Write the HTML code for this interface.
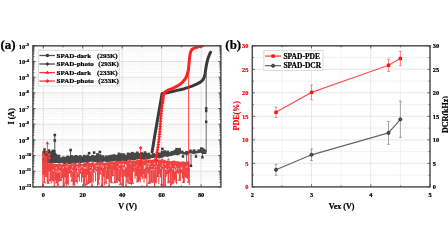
<!DOCTYPE html>
<html><head><meta charset="utf-8"><style>
html,body{margin:0;padding:0;background:#fff;width:448px;height:252px;overflow:hidden}
svg{display:block;font-family:"Liberation Serif", "DejaVu Serif", serif}
text{stroke:#000;stroke-width:0.22px}
text[fill="#f00"]{stroke:#f00}

</style></head><body>
<div id="w"><svg width="448" height="252" viewBox="0 0 448 252"><rect width="448" height="252" fill="#fff"/><g stroke="#f6f6f6" stroke-width="0.8"><line x1="32.9" x2="220.9" y1="182.18" y2="182.18"/><line x1="32.9" x2="220.9" y1="179.42" y2="179.42"/><line x1="32.9" x2="220.9" y1="177.46" y2="177.46"/><line x1="32.9" x2="220.9" y1="175.94" y2="175.94"/><line x1="32.9" x2="220.9" y1="174.7" y2="174.7"/><line x1="32.9" x2="220.9" y1="173.65" y2="173.65"/><line x1="32.9" x2="220.9" y1="172.74" y2="172.74"/><line x1="32.9" x2="220.9" y1="171.94" y2="171.94"/><line x1="32.9" x2="220.9" y1="166.5" y2="166.5"/><line x1="32.9" x2="220.9" y1="163.74" y2="163.74"/><line x1="32.9" x2="220.9" y1="161.78" y2="161.78"/><line x1="32.9" x2="220.9" y1="160.27" y2="160.27"/><line x1="32.9" x2="220.9" y1="159.02" y2="159.02"/><line x1="32.9" x2="220.9" y1="157.97" y2="157.97"/><line x1="32.9" x2="220.9" y1="157.07" y2="157.07"/><line x1="32.9" x2="220.9" y1="156.26" y2="156.26"/><line x1="32.9" x2="220.9" y1="150.83" y2="150.83"/><line x1="32.9" x2="220.9" y1="148.07" y2="148.07"/><line x1="32.9" x2="220.9" y1="146.11" y2="146.11"/><line x1="32.9" x2="220.9" y1="144.59" y2="144.59"/><line x1="32.9" x2="220.9" y1="143.35" y2="143.35"/><line x1="32.9" x2="220.9" y1="142.3" y2="142.3"/><line x1="32.9" x2="220.9" y1="141.39" y2="141.39"/><line x1="32.9" x2="220.9" y1="140.59" y2="140.59"/><line x1="32.9" x2="220.9" y1="135.15" y2="135.15"/><line x1="32.9" x2="220.9" y1="132.39" y2="132.39"/><line x1="32.9" x2="220.9" y1="130.43" y2="130.43"/><line x1="32.9" x2="220.9" y1="128.91" y2="128.91"/><line x1="32.9" x2="220.9" y1="127.67" y2="127.67"/><line x1="32.9" x2="220.9" y1="126.62" y2="126.62"/><line x1="32.9" x2="220.9" y1="125.71" y2="125.71"/><line x1="32.9" x2="220.9" y1="124.91" y2="124.91"/><line x1="32.9" x2="220.9" y1="119.47" y2="119.47"/><line x1="32.9" x2="220.9" y1="116.71" y2="116.71"/><line x1="32.9" x2="220.9" y1="114.75" y2="114.75"/><line x1="32.9" x2="220.9" y1="113.23" y2="113.23"/><line x1="32.9" x2="220.9" y1="111.99" y2="111.99"/><line x1="32.9" x2="220.9" y1="110.94" y2="110.94"/><line x1="32.9" x2="220.9" y1="110.03" y2="110.03"/><line x1="32.9" x2="220.9" y1="109.23" y2="109.23"/><line x1="32.9" x2="220.9" y1="103.79" y2="103.79"/><line x1="32.9" x2="220.9" y1="101.03" y2="101.03"/><line x1="32.9" x2="220.9" y1="99.07" y2="99.07"/><line x1="32.9" x2="220.9" y1="97.55" y2="97.55"/><line x1="32.9" x2="220.9" y1="96.31" y2="96.31"/><line x1="32.9" x2="220.9" y1="95.26" y2="95.26"/><line x1="32.9" x2="220.9" y1="94.35" y2="94.35"/><line x1="32.9" x2="220.9" y1="93.55" y2="93.55"/><line x1="32.9" x2="220.9" y1="88.11" y2="88.11"/><line x1="32.9" x2="220.9" y1="85.35" y2="85.35"/><line x1="32.9" x2="220.9" y1="83.39" y2="83.39"/><line x1="32.9" x2="220.9" y1="81.88" y2="81.88"/><line x1="32.9" x2="220.9" y1="80.63" y2="80.63"/><line x1="32.9" x2="220.9" y1="79.58" y2="79.58"/><line x1="32.9" x2="220.9" y1="78.68" y2="78.68"/><line x1="32.9" x2="220.9" y1="77.87" y2="77.87"/><line x1="32.9" x2="220.9" y1="72.44" y2="72.44"/><line x1="32.9" x2="220.9" y1="69.68" y2="69.68"/><line x1="32.9" x2="220.9" y1="67.72" y2="67.72"/><line x1="32.9" x2="220.9" y1="66.2" y2="66.2"/><line x1="32.9" x2="220.9" y1="64.96" y2="64.96"/><line x1="32.9" x2="220.9" y1="63.91" y2="63.91"/><line x1="32.9" x2="220.9" y1="63" y2="63"/><line x1="32.9" x2="220.9" y1="62.2" y2="62.2"/><line x1="32.9" x2="220.9" y1="56.76" y2="56.76"/><line x1="32.9" x2="220.9" y1="54" y2="54"/><line x1="32.9" x2="220.9" y1="52.04" y2="52.04"/><line x1="32.9" x2="220.9" y1="50.52" y2="50.52"/><line x1="32.9" x2="220.9" y1="49.28" y2="49.28"/><line x1="32.9" x2="220.9" y1="48.23" y2="48.23"/><line x1="32.9" x2="220.9" y1="47.32" y2="47.32"/><line x1="32.9" x2="220.9" y1="46.52" y2="46.52"/><line x1="63.02" x2="63.02" y1="45.8" y2="186.9"/><line x1="102.47" x2="102.47" y1="45.8" y2="186.9"/><line x1="141.93" x2="141.93" y1="45.8" y2="186.9"/><line x1="181.38" x2="181.38" y1="45.8" y2="186.9"/></g><g stroke="#e3e3e3" stroke-width="1"><line x1="32.9" x2="220.9" y1="171.22" y2="171.22"/><line x1="32.9" x2="220.9" y1="155.55" y2="155.55"/><line x1="32.9" x2="220.9" y1="139.87" y2="139.87"/><line x1="32.9" x2="220.9" y1="124.19" y2="124.19"/><line x1="32.9" x2="220.9" y1="108.51" y2="108.51"/><line x1="32.9" x2="220.9" y1="92.83" y2="92.83"/><line x1="32.9" x2="220.9" y1="77.16" y2="77.16"/><line x1="32.9" x2="220.9" y1="61.48" y2="61.48"/><line x1="43.3" x2="43.3" y1="45.8" y2="186.9"/><line x1="82.75" x2="82.75" y1="45.8" y2="186.9"/><line x1="122.2" x2="122.2" y1="45.8" y2="186.9"/><line x1="161.65" x2="161.65" y1="45.8" y2="186.9"/><line x1="201.1" x2="201.1" y1="45.8" y2="186.9"/></g><clipPath id="ca"><rect x="32.9" y="45.8" width="188.0" height="141.10000000000002"/></clipPath><g clip-path="url(#ca)"><path d="M42.5 151.37 L43 151.64 L43.5 151.91 L44 152.18 L44.5 152.45 L45 152.71 L45.5 152.98 L46 153.17 L46.5 153.03 L47 152.89 L47.5 152.74 L48 152.6 L48.5 152.46 L49 152.32 L49.5 152.17 L50 152.03 L50.5 151.92 L51 151.81 L51.5 151.7 L52 151.6 L52.5 151.56 L53 151.51 L53.5 151.47 L54 151.43 L54.5 151.89 L55 152.35 L55.5 152.8 L56 153.26 L56.5 153.72 L57 154.18 L57.5 154.78 L58 155.39 L58.5 155.77 L59 156.14 L59.5 156.52 L60 156.9 L60.5 157.28 L61 157.58 L61.5 157.5 L62 157.42 L62.5 157.34 L63 157.26 L63.5 157.18 L64 157.1 L64.5 157.02 L65 156.94 L65.5 156.85 L66 156.76 L66.5 156.67 L67 156.58 L67.5 156.49 L68 156.4 L68.5 156.31 L69 156.22 L69.5 156.14 L70 156.05 L70.5 155.96 L71 155.87 L71.5 155.78 L72 155.7 L72.5 155.68 L73 155.67 L73.5 155.65 L74 155.63 L74.5 155.62 L75 155.6 L75.5 155.62 L76 155.7 L76.5 155.78 L77 155.86 L77.5 155.94 L78 156.02 L78.5 156.09 L79 156.17 L79.5 156.25 L80 156.33 L80.5 156.41 L81 156.43 L81.5 156.38 L82 156.34 L82.5 156.29 L83 156.24 L83.5 156.19 L84 156.15 L84.5 156.1 L85 156.05 L85.5 156.04 L86 156.05 L86.5 156.05 L87 156.06 L87.5 156.06 L88 156.07 L88.5 156.07 L89 156.08 L89.5 156.08 L90 156.09 L90.5 156.08 L91 156.07 L91.5 156.06 L92 156.06 L92.5 156.05 L93 156.04 L93.5 156.03 L94 155.87 L94.5 155.67 L95 155.47 L95.5 155.26 L96 155.06 L96.5 154.86 L97 154.66 L97.5 154.53 L98 154.72 L98.5 154.9 L99 155.09 L99.5 155.27 L100 155.46 L100.5 155.65 L101 155.83 L101.5 156.02 L102 156.2 L102.5 156.39 L103 156.58 L103.5 156.65 L104 156.71 L104.5 156.77 L105 156.83 L105.5 156.89 L106 156.95 L106.5 157 L107 157.06 L107.5 157.12 L108 157.18 L108.5 157.01 L109 156.73 L109.5 156.45 L110 156.17 L110.5 155.89 L111 155.62 L111.5 155.35 L112 155.07 L112.5 154.92 L113 154.91 L113.5 154.91 L114 154.9 L114.5 154.9 L115 154.89 L115.5 154.89 L116 154.89 L116.5 154.88 L117 154.71 L117.5 154.52 L118 154.34 L118.5 154.16 L119 153.98 L119.5 153.8 L120 153.62 L120.5 153.44 L121 153.26 L121.5 153.08 L122 153.22 L122.5 153.46 L123 153.7 L123.5 153.93 L124 154.17 L124.5 154.41 L125 154.65 L125.5 154.88 L126 155.11 L126.5 154.82 L127 154.53 L127.5 154.24 L128 153.95 L128.5 153.66 L129 153.37 L129.5 153.08 L130 152.82 L130.5 152.8 L131 152.78 L131.5 152.76 L132 152.74 L132.5 152.72 L133 152.69 L133.5 152.67 L134 152.65 L134.5 152.63 L135 152.61 L135.5 152.63 L136 152.68 L136.5 152.73 L137 152.77 L137.5 152.82 L138 152.87 L138.5 152.92 L139 152.96 L139.5 153.01 L140 153.05 L140.5 153.03 L141 153 L141.5 152.98 L142 152.96 L142.5 152.94 L143 152.89 L143.5 152.83 L144 152.76 L144.5 152.7 L145 152.64 L145.5 152.57 L146 152.68 L146.5 152.87 L147 153.07 L147.5 153.26 L148 153.45 L148.5 153.64 L149 153.84 L149.5 154.03 L150 154.22 L150.5 154.41 L151 154.51 L151.5 154.43 L152 154.35 L152.5 154.26 L153 154.18 L153.5 154.1 L154 154.02 L154.5 153.93 L155 153.84 L155.5 153.72 L156 153.61 L156.5 153.49 L157 153.38 L157.5 153.26 L158 153.15 L158.5 153.03 L159 152.91 L159.5 152.8 L160 152.69 L160.5 152.56 L161 152.44 L161.5 152.31 L162 152.18 L162.5 152.06 L163 151.93 L163.5 151.8 L164 151.67 L164.5 151.55 L165 151.42 L165.5 151.46 L166 151.53 L166.5 151.61 L167 151.69 L167.5 151.76 L168 151.84 L168.5 151.92 L169 152 L169.5 152.07 L170 152.15 L170.5 152.23 L171 152.24 L171.5 151.9 L172 151.57 L172.5 151.23 L173 150.89 L173.5 150.55 L174 150.21 L174.5 149.87 L175 149.53 L175.5 149.19 L176 148.85 L176.5 148.76 L177 148.72 L177.5 148.68 L178 148.63 L178.5 148.59 L179 148.55 L179.5 148.89 L180 149.32 L180.5 149.78 L181 150.24 L181.5 150.7 L182 151.16 L182.5 151.62 L183 152.08 L183.5 152.06 L184 151.99 L184.5 151.93 L185 151.86 L185.5 151.8 L186 151.73 L186.5 151.67 L187 151.6 L187.5 151.54 L188 151.48 L188.5 151.41 L189 151.34 L189.5 151.22 L190 151.11 L190.5 150.99 L191 150.88 L191.5 150.76 L192 150.64 L192.5 150.65 L193 150.67 L193.5 150.68 L194 150.7 L194.5 150.71 L195 150.72 L195.5 150.74 L196 150.75 L196.5 150.76 L197 150.78 L197.5 150.79 L198 150.52 L198.5 150.24 L199 149.96 L199.5 149.68 L200 149.4 L200.5 149.12 L201 148.84 L201.5 148.56 L202 148.28 L202.5 148 L203 147.73 L203.5 148.03 L204 148.42 L204.5 148.8 L205 149.18 L205.5 149.57 L206 149.95 L206.5 150.25 L206.5 153.67 L206 154.02 L205.5 154.03 L205 154.05 L204.5 154.06 L204 154.07 L203.5 154.08 L203 153.88 L202.5 153.65 L202 153.43 L201.5 153.2 L201 152.97 L200.5 152.84 L200 152.95 L199.5 153.06 L199 153.17 L198.5 153.28 L198 153.3 L197.5 153.26 L197 153.23 L196.5 153.19 L196 153.16 L195.5 153.32 L195 153.71 L194.5 154.09 L194 154.48 L193.5 154.36 L193 154.09 L192.5 153.83 L192 153.57 L191.5 153.37 L191 153.29 L190.5 153.21 L190 153.34 L189.5 153.74 L189 154.14 L188.5 154.54 L188 154.79 L187.5 154.81 L187 154.83 L186.5 154.85 L186 154.87 L185.5 154.8 L185 154.69 L184.5 154.57 L184 154.46 L183.5 154.34 L183 154.14 L182.5 153.83 L182 153.53 L181.5 153.59 L181 153.82 L180.5 154.06 L180 154.26 L179.5 154.52 L179 154.78 L178.5 155.04 L178 155.29 L177.5 155.24 L177 155.16 L176.5 155.09 L176 155.01 L175.5 154.93 L175 154.85 L174.5 155.02 L174 155.2 L173.5 155.37 L173 155.54 L172.5 155.72 L172 155.88 L171.5 155.94 L171 155.99 L170.5 156.04 L170 156.16 L169.5 156.32 L169 156.47 L168.5 156.63 L168 156.79 L167.5 156.95 L167 156.9 L166.5 156.78 L166 156.66 L165.5 156.54 L165 156.54 L164.5 156.8 L164 157.07 L163.5 157.28 L163 157.44 L162.5 157.6 L162 157.76 L161.5 157.93 L161 158.09 L160.5 158.22 L160 158.34 L159.5 158.41 L159 158.47 L158.5 158.54 L158 158.28 L157.5 158.02 L157 157.76 L156.5 157.7 L156 157.7 L155.5 157.69 L155 157.71 L154.5 157.79 L154 157.88 L153.5 157.96 L153 158.04 L152.5 158.12 L152 158.19 L151.5 158.26 L151 158.33 L150.5 158.47 L150 158.71 L149.5 158.95 L149 159.19 L148.5 159.37 L148 159.42 L147.5 159.47 L147 159.52 L146.5 159.6 L146 159.67 L145.5 159.75 L145 159.8 L144.5 159.81 L144 159.82 L143.5 159.83 L143 159.84 L142.5 159.86 L142 159.83 L141.5 159.72 L141 159.61 L140.5 159.49 L140 159.38 L139.5 159.29 L139 159.26 L138.5 159.22 L138 159.19 L137.5 159.15 L137 159.2 L136.5 159.46 L136 159.72 L135.5 159.97 L135 160.23 L134.5 160.49 L134 160.56 L133.5 160.52 L133 160.48 L132.5 160.44 L132 160.4 L131.5 160.36 L131 160.31 L130.5 160.19 L130 160.05 L129.5 159.92 L129 159.78 L128.5 160.01 L128 160.33 L127.5 160.65 L127 160.98 L126.5 161.3 L126 161.62 L125.5 161.6 L125 161.55 L124.5 161.5 L124 161.45 L123.5 161.44 L123 161.46 L122.5 161.48 L122 161.5 L121.5 161.52 L121 161.54 L120.5 161.56 L120 161.58 L119.5 161.59 L119 161.61 L118.5 161.68 L118 161.75 L117.5 161.82 L117 161.89 L116.5 161.76 L116 161.59 L115.5 161.43 L115 161.26 L114.5 161.1 L114 160.94 L113.5 161.04 L113 161.24 L112.5 161.44 L112 161.54 L111.5 161.63 L111 161.73 L110.5 161.83 L110 161.99 L109.5 162.16 L109 162.33 L108.5 162.43 L108 162.3 L107.5 162.17 L107 162.03 L106.5 161.9 L106 161.78 L105.5 161.72 L105 161.66 L104.5 161.6 L104 161.54 L103.5 161.66 L103 161.89 L102.5 162.11 L102 162.34 L101.5 162.55 L101 162.58 L100.5 162.6 L100 162.63 L99.5 162.65 L99 162.66 L98.5 162.66 L98 162.67 L97.5 162.68 L97 162.67 L96.5 162.56 L96 162.45 L95.5 162.34 L95 162.23 L94.5 162.12 L94 162.02 L93.5 161.92 L93 161.82 L92.5 161.81 L92 161.79 L91.5 161.78 L91 161.78 L90.5 161.79 L90 161.8 L89.5 162.01 L89 162.41 L88.5 162.81 L88 163.21 L87.5 163.35 L87 163.16 L86.5 162.98 L86 162.79 L85.5 162.6 L85 162.5 L84.5 162.54 L84 162.59 L83.5 162.63 L83 162.67 L82.5 162.71 L82 162.79 L81.5 162.9 L81 163.02 L80.5 163.13 L80 163.25 L79.5 163.18 L79 163.11 L78.5 163.04 L78 162.96 L77.5 162.89 L77 163.18 L76.5 163.49 L76 163.79 L75.5 163.89 L75 163.78 L74.5 163.67 L74 163.57 L73.5 163.46 L73 163.52 L72.5 163.6 L72 163.68 L71.5 163.75 L71 163.81 L70.5 163.9 L70 164.08 L69.5 164.26 L69 164.2 L68.5 163.92 L68 163.64 L67.5 163.36 L67 163.08 L66.5 163.19 L66 163.58 L65.5 163.98 L65 164.37 L64.5 164.26 L64 164.04 L63.5 163.82 L63 163.59 L62.5 163.37 L62 163.15 L61.5 163.15 L61 163.23 L60.5 163.3 L60 163.33 L59.5 163.28 L59 163.24 L58.5 163.19 L58 163.14 L57.5 163.07 L57 163.04 L56.5 163.08 L56 163.11 L55.5 163.15 L55 163.18 L54.5 163.22 L54 163.24 L53.5 163.26 L53 163.28 L52.5 163.33 L52 163.37 L51.5 163.42 L51 163.47 L50.5 163.51 L50 163.36 L49.5 163.23 L49 163.13 L48.5 163.32 L48 163.51 L47.5 163.71 L47 163.9 L46.5 164.1 L46 164.21 L45.5 164.17 L45 164.13 L44.5 164.1 L44 164.1 L43.5 164.1 L43 164.11 L42.5 164.11Z" fill="#474747"/><rect x="42.6" y="150.68" width="2.8" height="2.8" fill="#474747"/><rect x="46.27" y="151.89" width="2.8" height="2.8" fill="#474747"/><rect x="49.15" y="151.14" width="2.8" height="2.8" fill="#474747"/><rect x="52.75" y="150.04" width="2.8" height="2.8" fill="#474747"/><rect x="57.46" y="154.68" width="2.8" height="2.8" fill="#474747"/><rect x="61.85" y="156.43" width="2.8" height="2.8" fill="#474747"/><rect x="66.29" y="155.64" width="2.8" height="2.8" fill="#474747"/><rect x="70.11" y="155.14" width="2.8" height="2.8" fill="#474747"/><rect x="74.84" y="155.01" width="2.8" height="2.8" fill="#474747"/><rect x="78.82" y="155.1" width="2.8" height="2.8" fill="#474747"/><rect x="82.93" y="154.83" width="2.8" height="2.8" fill="#474747"/><rect x="86.35" y="154.67" width="2.8" height="2.8" fill="#474747"/><rect x="91.2" y="154.83" width="2.8" height="2.8" fill="#474747"/><rect x="96.15" y="153.1" width="2.8" height="2.8" fill="#474747"/><rect x="98.79" y="154.26" width="2.8" height="2.8" fill="#474747"/><rect x="101.52" y="155.28" width="2.8" height="2.8" fill="#474747"/><rect x="104.94" y="155.53" width="2.8" height="2.8" fill="#474747"/><rect x="107.56" y="155.21" width="2.8" height="2.8" fill="#474747"/><rect x="110.16" y="154.65" width="2.8" height="2.8" fill="#474747"/><rect x="112.67" y="154.18" width="2.8" height="2.8" fill="#474747"/><rect x="117.64" y="152.54" width="2.8" height="2.8" fill="#474747"/><rect x="122.43" y="153.3" width="2.8" height="2.8" fill="#474747"/><rect x="126.65" y="152.52" width="2.8" height="2.8" fill="#474747"/><rect x="130.96" y="151.85" width="2.8" height="2.8" fill="#474747"/><rect x="135.89" y="151.47" width="2.8" height="2.8" fill="#474747"/><rect x="140.1" y="152.1" width="2.8" height="2.8" fill="#474747"/><rect x="143.6" y="151.28" width="2.8" height="2.8" fill="#474747"/><rect x="147.39" y="152.67" width="2.8" height="2.8" fill="#474747"/><rect x="152.19" y="153.06" width="2.8" height="2.8" fill="#474747"/><rect x="156.83" y="152.44" width="2.8" height="2.8" fill="#474747"/><rect x="160.66" y="150.86" width="2.8" height="2.8" fill="#474747"/><rect x="163.19" y="150.23" width="2.8" height="2.8" fill="#474747"/><rect x="166.4" y="150.59" width="2.8" height="2.8" fill="#474747"/><rect x="170.46" y="150.92" width="2.8" height="2.8" fill="#474747"/><rect x="175.32" y="147.9" width="2.8" height="2.8" fill="#474747"/><rect x="178.16" y="147.9" width="2.8" height="2.8" fill="#474747"/><rect x="180.82" y="150.66" width="2.8" height="2.8" fill="#474747"/><rect x="185.22" y="150.96" width="2.8" height="2.8" fill="#474747"/><rect x="189.08" y="149.51" width="2.8" height="2.8" fill="#474747"/><rect x="192.71" y="149.28" width="2.8" height="2.8" fill="#474747"/><rect x="197.29" y="149.37" width="2.8" height="2.8" fill="#474747"/><rect x="199.98" y="147.25" width="2.8" height="2.8" fill="#474747"/><rect x="43.3" y="148.2" width="2.4" height="2.4" fill="#3a3a3a"/><line x1="44.5" x2="44.5" y1="149.4" y2="163" stroke="#3a3a3a" stroke-width="0.8"/><rect x="45.3" y="150.8" width="2.4" height="2.4" fill="#3a3a3a"/><line x1="46.5" x2="46.5" y1="152" y2="163" stroke="#3a3a3a" stroke-width="0.8"/><rect x="47.8" y="149.3" width="2.4" height="2.4" fill="#3a3a3a"/><line x1="49" x2="49" y1="150.5" y2="163" stroke="#3a3a3a" stroke-width="0.8"/><rect x="49.8" y="153.8" width="2.4" height="2.4" fill="#3a3a3a"/><line x1="51" x2="51" y1="155" y2="163.05" stroke="#3a3a3a" stroke-width="0.8"/><rect x="185.5" y="162.5" width="2.4" height="2.4" fill="#3a3a3a"/><line x1="186.7" x2="186.7" y1="163.7" y2="153.55" stroke="#3a3a3a" stroke-width="0.8"/><rect x="189.8" y="164.7" width="2.4" height="2.4" fill="#3a3a3a"/><line x1="191" x2="191" y1="165.9" y2="153.39" stroke="#3a3a3a" stroke-width="0.8"/><rect x="194.8" y="155.4" width="2.4" height="2.4" fill="#3a3a3a"/><line x1="196" x2="196" y1="156.6" y2="153.21" stroke="#3a3a3a" stroke-width="0.8"/><rect x="201.2" y="156.1" width="2.4" height="2.4" fill="#3a3a3a"/><line x1="202.4" x2="202.4" y1="157.3" y2="152.97" stroke="#3a3a3a" stroke-width="0.8"/><rect x="181.8" y="155.3" width="2.4" height="2.4" fill="#3a3a3a"/><line x1="183" x2="183" y1="156.5" y2="153.69" stroke="#3a3a3a" stroke-width="0.8"/><path d="M152.1 152 L153.4 144 L154.6 136.6 L156 128.5 L157.3 121 L158.6 113.5 L160 105.5 L161.3 98 L162.1 93.5 L165 93 L168.7 92.4 L172.5 91.5 L177 90.4 L180.1 89.8 L184.4 88.7 L188.4 87.3 L192.6 85.9 L196.6 84.2 L199.5 82.7 L201.8 81.1 L203.3 79.2 L204.3 77 L205 74 L205.5 70.8 L206 67.5 L206.5 64.6 L207.2 61.4 L208 58.4 L209 55.8 L210 53.3 L210.6 52.2" fill="none" stroke="#3a3a3a" stroke-width="3.0" stroke-linejoin="round" stroke-linecap="round"/><line x1="206.2" x2="206.2" y1="152" y2="72" stroke="#555" stroke-width="0.9"/><rect x="205" y="107.10000000000001" width="2.4" height="2.6" fill="#3a3a3a"/><rect x="205" y="109.60000000000001" width="2.4" height="2.6" fill="#3a3a3a"/><rect x="205" y="120.5" width="2.4" height="2.6" fill="#3a3a3a"/><line x1="54.8" x2="54.8" y1="135" y2="156" stroke="#3a3a3a" stroke-width="0.9"/><rect x="53.5" y="133.7" width="2.6" height="2.6" fill="#3a3a3a"/><rect x="53.5" y="139.2" width="2.6" height="2.6" fill="#3a3a3a"/><rect x="69.3" y="148.7" width="2.6" height="2.6" fill="#3a3a3a"/><rect x="51.6" y="149.6" width="2.6" height="2.6" fill="#3a3a3a"/><rect x="161.1" y="147.6" width="2.6" height="2.6" fill="#3a3a3a"/><rect x="87.8" y="151.9" width="2.6" height="2.6" fill="#3a3a3a"/><rect x="92.8" y="151.3" width="2.6" height="2.6" fill="#3a3a3a"/><rect x="98.6" y="150.7" width="2.6" height="2.6" fill="#3a3a3a"/><line x1="70.6" x2="70.6" y1="150" y2="157" stroke="#3a3a3a" stroke-width="0.9"/><path d="M42.5 164.12 L43 163.98 L43.5 163.84 L44 163.7 L44.5 163.56 L45 163.71 L45.5 163.87 L46 163.96 L46.5 163.88 L47 163.8 L47.5 163.72 L48 163.64 L48.5 163.54 L49 163.41 L49.5 163.27 L50 163.14 L50.5 163.02 L51 163.06 L51.5 163.15 L52 163.25 L52.5 163.35 L53 163.56 L53.5 163.77 L54 163.97 L54.5 164.09 L55 164.08 L55.5 164.08 L56 164.07 L56.5 164.07 L57 164.03 L57.5 163.99 L58 163.95 L58.5 163.88 L59 163.84 L59.5 163.92 L60 164.01 L60.5 164.1 L61 164.19 L61.5 164.27 L62 164.36 L62.5 164.28 L63 163.94 L63.5 163.66 L64 163.78 L64.5 163.89 L65 163.96 L65.5 163.88 L66 163.8 L66.5 163.72 L67 163.65 L67.5 163.87 L68 164.3 L68.5 164.58 L69 164.53 L69.5 164.48 L70 164.43 L70.5 164.37 L71 164.12 L71.5 163.75 L72 163.66 L72.5 164.02 L73 164.39 L73.5 164.13 L74 163.61 L74.5 163.23 L75 163.58 L75.5 163.94 L76 164.19 L76.5 164.27 L77 164.36 L77.5 164.25 L78 164.05 L78.5 163.85 L79 163.62 L79.5 163.39 L80 163.15 L80.5 163.31 L81 163.53 L81.5 163.74 L82 163.96 L82.5 164.03 L83 163.64 L83.5 163.25 L84 162.95 L84.5 162.82 L85 162.7 L85.5 162.83 L86 162.96 L86.5 163.09 L87 163.04 L87.5 162.94 L88 162.84 L88.5 162.74 L89 162.84 L89.5 162.94 L90 162.95 L90.5 162.83 L91 162.71 L91.5 162.62 L92 162.69 L92.5 162.75 L93 162.81 L93.5 162.87 L94 162.98 L94.5 163.24 L95 163.48 L95.5 163.28 L96 163.08 L96.5 162.88 L97 162.68 L97.5 162.49 L98 162.39 L98.5 162.28 L99 162.17 L99.5 162.07 L100 161.97 L100.5 161.98 L101 161.98 L101.5 161.99 L102 162 L102.5 162.05 L103 162.21 L103.5 162.37 L104 162.53 L104.5 162.69 L105 162.66 L105.5 162.52 L106 162.38 L106.5 162.24 L107 162.11 L107.5 162.24 L108 162.48 L108.5 162.72 L109 162.95 L109.5 162.7 L110 162.2 L110.5 161.75 L111 161.69 L111.5 161.63 L112 161.57 L112.5 161.49 L113 161.37 L113.5 161.28 L114 161.56 L114.5 161.84 L115 162.13 L115.5 162.1 L116 162.04 L116.5 161.98 L117 161.78 L117.5 161.39 L118 161.05 L118.5 161.04 L119 161.02 L119.5 161.01 L120 160.96 L120.5 160.85 L121 160.82 L121.5 161.14 L122 161.46 L122.5 161.77 L123 161.98 L123.5 161.51 L124 161.05 L124.5 160.59 L125 160.58 L125.5 160.94 L126 161.3 L126.5 161.18 L127 160.97 L127.5 160.76 L128 160.55 L128.5 160.38 L129 160.27 L129.5 160.15 L130 160.03 L130.5 160.26 L131 160.53 L131.5 160.8 L132 161.03 L132.5 161 L133 160.97 L133.5 160.95 L134 160.88 L134.5 160.77 L135 160.67 L135.5 160.59 L136 160.52 L136.5 160.46 L137 160.37 L137.5 160.23 L138 160.09 L138.5 159.97 L139 159.84 L139.5 159.71 L140 159.58 L140.5 159.45 L141 159.32 L141.5 159.18 L142 159.16 L142.5 159.59 L143 160.01 L143.5 160.44 L144 160.39 L144.5 160.21 L145 160.02 L145.5 159.84 L146 159.84 L146.5 159.89 L147 159.95 L147.5 160 L148 160.04 L148.5 159.89 L149 159.74 L149.5 159.58 L150 159.53 L150.5 159.59 L151 159.64 L151.5 159.69 L152 159.75 L152.5 159.68 L153 159.59 L153.5 159.49 L154 159.39 L154.5 159.27 L155 159.15 L155.5 159.18 L156 159.32 L156.5 159.45 L157 159.58 L157.5 159.59 L158 159.54 L158.5 159.5 L159 159.46 L159.5 159.45 L160 159.49 L160.5 159.6 L161 159.72 L161.5 160 L162 160.28 L162.5 160.47 L163 160.26 L163.5 160.05 L164 159.84 L164.5 159.74 L165 160.03 L165.5 160.33 L166 160.63 L166.5 160.75 L167 160.76 L167.5 160.77 L168 160.78 L168.5 160.79 L169 160.86 L169.5 160.95 L170 161.04 L170.5 161.14 L171 161.22 L171.5 161.08 L172 160.95 L172.5 160.81 L173 160.69 L173.5 160.58 L174 160.47 L174.5 160.48 L175 160.75 L175.5 161.01 L176 161.27 L176.5 161.37 L177 161.32 L177.5 161.27 L178 161.22 L178.5 161.17 L179 161.33 L179.5 161.48 L180 161.63 L180.5 161.79 L181 161.92 L181.5 161.73 L182 161.54 L182.5 161.35 L183 161.25 L183.5 161.42 L184 161.6 L184.5 161.78 L185 161.95 L185.5 161.99 L186 161.82 L186.5 161.65 L187 161.48 L187.5 161.39 L188 161.41 L188.5 161.44 L189 161.52 L189.5 161.63 L189.5 172.6 L189 172.56 L188.5 171.92 L188 171.29 L187.5 171.03 L187 170.78 L186.5 170.74 L186 171.22 L185.5 171.7 L185 172.18 L184.5 172.42 L184 171.89 L183.5 171.37 L183 171.15 L182.5 171.35 L182 171.36 L181.5 171 L181 170.64 L180.5 170.34 L180 170.14 L179.5 169.94 L179 170.08 L178.5 170.59 L178 171.11 L177.5 171.31 L177 171.4 L176.5 171.53 L176 171.67 L175.5 171.77 L175 171.86 L174.5 171.95 L174 171.95 L173.5 171.8 L173 171.65 L172.5 171.54 L172 171.48 L171.5 171.41 L171 171.52 L170.5 171.68 L170 170.82 L169.5 169.68 L169 169.58 L168.5 170 L168 170.27 L167.5 170.32 L167 170.38 L166.5 170.39 L166 170.21 L165.5 170.02 L165 169.84 L164.5 169.36 L164 168.82 L163.5 169.13 L163 169.79 L162.5 170.25 L162 170.58 L161.5 170.44 L161 169.64 L160.5 168.85 L160 168.31 L159.5 168.84 L159 169.38 L158.5 169.92 L158 169.31 L157.5 168.54 L157 168.12 L156.5 168.52 L156 168.92 L155.5 169.32 L155 169.72 L154.5 169.72 L154 169.01 L153.5 168.31 L153 168.56 L152.5 168.82 L152 169.08 L151.5 169.34 L151 169.51 L150.5 169.66 L150 169.6 L149.5 169.54 L149 169.43 L148.5 169.21 L148 168.99 L147.5 169.37 L147 169.74 L146.5 169.67 L146 169.14 L145.5 168.62 L145 169.26 L144.5 170.21 L144 169.99 L143.5 169.49 L143 169 L142.5 168.73 L142 168.54 L141.5 168.35 L141 168.15 L140.5 168.23 L140 168.36 L139.5 168.49 L139 168.9 L138.5 169.89 L138 170.71 L137.5 169.92 L137 169.16 L136.5 168.58 L136 168.18 L135.5 168.8 L135 169.43 L134.5 170.06 L134 170.54 L133.5 170.65 L133 170.76 L132.5 170.86 L132 170.8 L131.5 170.65 L131 170.68 L130.5 170.86 L130 170.8 L129.5 170.43 L129 170.06 L128.5 169.75 L128 169.8 L127.5 169.86 L127 169.92 L126.5 169.97 L126 169.98 L125.5 169.99 L125 170 L124.5 169.47 L124 168.73 L123.5 168.72 L123 168.9 L122.5 169.08 L122 169.23 L121.5 169.37 L121 169.51 L120.5 169.65 L120 169.5 L119.5 169.23 L119 169.02 L118.5 169.22 L118 169.41 L117.5 169.63 L117 169.95 L116.5 170.27 L116 170.59 L115.5 170.85 L115 171.1 L114.5 171.34 L114 171.45 L113.5 171.48 L113 171.52 L112.5 171.55 L112 171.04 L111.5 170.33 L111 169.63 L110.5 169.19 L110 169.06 L109.5 169.14 L109 169.74 L108.5 170.34 L108 170.95 L107.5 171.25 L107 171.53 L106.5 171.41 L106 171.08 L105.5 170.76 L105 170.52 L104.5 170.32 L104 170.13 L103.5 170.59 L103 171.21 L102.5 171.07 L102 170.79 L101.5 170.51 L101 170.24 L100.5 170.05 L100 169.9 L99.5 170.27 L99 170.63 L98.5 170.89 L98 171.11 L97.5 171.32 L97 171.41 L96.5 171.51 L96 171.6 L95.5 171.69 L95 171.74 L94.5 171.79 L94 171.88 L93.5 172.07 L93 171.91 L92.5 171.1 L92 170.6 L91.5 170.37 L91 170.14 L90.5 169.95 L90 169.83 L89.5 170.1 L89 170.84 L88.5 171.59 L88 172.31 L87.5 172.21 L87 172.11 L86.5 172.04 L86 171.99 L85.5 171.93 L85 171.88 L84.5 171.9 L84 171.97 L83.5 172.05 L83 171.81 L82.5 171.56 L82 171.77 L81.5 172.23 L81 172.68 L80.5 172.66 L80 172.04 L79.5 171.42 L79 171.22 L78.5 171.32 L78 171.41 L77.5 171.5 L77 171.78 L76.5 172.07 L76 171.87 L75.5 171.5 L75 171.49 L74.5 171.9 L74 172.31 L73.5 172.69 L73 172.95 L72.5 173.2 L72 173.35 L71.5 172.86 L71 172.37 L70.5 171.88 L70 172.05 L69.5 172.67 L69 173.29 L68.5 173.61 L68 173.6 L67.5 173.59 L67 173.58 L66.5 173.6 L66 173.62 L65.5 173.64 L65 173.58 L64.5 173.47 L64 173.33 L63.5 173.05 L63 172.77 L62.5 172.49 L62 172.28 L61.5 172.38 L61 172.47 L60.5 172.57 L60 172.84 L59.5 173.1 L59 173.36 L58.5 173.51 L58 173.38 L57.5 173.25 L57 173.03 L56.5 172.8 L56 172.46 L55.5 171.86 L55 171.25 L54.5 171.26 L54 171.43 L53.5 171.6 L53 171.57 L52.5 171.19 L52 170.81 L51.5 170.01 L51 169.58 L50.5 169.28 L50 169.43 L49.5 169.58 L49 168.98 L48.5 167.46 L48 165.94 L47.5 166.34 L47 166.91 L46.5 167.26 L46 166.63 L45.5 165.97 L45 164.46 L44.5 162.94 L44 162.38 L43.5 162.15 L43 161.92 L42.5 161.69Z" fill="#f04444"/><path d="M42.8 158.92V185.65M43.69 159.95V174.87M44.42 160.78V182.05M45.42 161.93V174.13M46.18 162.81V175.94M47.31 164.1V183.17M48.19 165.12V182.58M49.27 166.36V171.13M50.08 167.29V180.17M51.18 168.55V183.56M52.39 169.54V179.41M53.14 169.63V181.74M54.3 169.76V186.29M55.5 169.89V180.82M56.37 169.99V182.51M57.25 170.09V181.54M57.91 170.17V184.57M59.03 170.29V182.25M59.98 170.4V180M61.27 170.31V180.91M62.33 170.24V176.78M63.22 170.17V185.69M64.03 170.12V184.64M65.12 170.04V177.33M65.87 169.99V182.72M66.76 169.93V186.27M67.47 169.88V182.63M68.33 169.82V185.23M69.61 169.73V172.51M70.83 169.64V177.31M71.97 169.56V180.65M73.13 169.48V184.93M73.93 169.42V184.36M74.72 169.37V185.79M75.97 169.28V180.93M77.25 169.19V183.51M78.06 169.14V176.03M79.36 169.04V181.6M80.59 168.96V172.64M81.57 168.89V182.25M82.49 168.83V176.39M83.6 168.75V186.07M84.67 168.67V184.68M85.42 168.62V177.35M86.38 168.55V184.17M87 168.51V174.7M88.03 168.44V182.8M88.77 168.39V182.69M89.67 168.32V181.97M90.81 168.29V181.97M91.96 168.27V185.91M93.23 168.25V182.39M94.4 168.23V171.34M95.59 168.22V181.44M96.35 168.2V170.33M97.57 168.19V186.09M98.53 168.17V183.33M99.23 168.16V179.88M100.19 168.15V173.49M101.05 168.13V170.37M101.9 168.12V185.08M102.72 168.11V186.11M103.66 168.1V175.73M104.73 168.08V185.44M106.01 168.06V182.67M106.63 168.05V178.99M107.43 168.04V177.89M108.49 168.02V179.28M109.16 168.01V186.05M110.32 167.99V181.99M111.51 167.94V182.22M112.19 167.92V176M113.02 167.89V175.1M113.85 167.86V172.41M114.68 167.83V182.22M115.94 167.78V182.82M116.85 167.75V181.68M117.67 167.72V180.16M118.94 167.67V179.8M119.58 167.65V182.03M120.32 167.62V184.18M121.01 167.6V176.56M122.26 167.55V183.62M123.37 167.51V186.01M123.99 167.49V175.39M125.18 167.44V176.43M126.01 167.41V185.87M126.63 167.39V177.24M127.34 167.36V181.47M128.17 167.33V176.63M128.79 167.31V182.75M129.69 167.28V180.79M130.53 167.25V182.88M131.39 167.22V184.98M132.43 167.18V182.96M133.19 167.15V172.12M134.19 167.11V170.33M135.05 167.08V178.86M136.19 167.04V174.97M137.1 167.01V182.8M137.98 166.97V180.98M138.67 166.95V181.62M139.51 166.92V178.84M140.16 166.9V182.32M141.25 166.88V175.75M142.29 166.85V178.99M143.27 166.83V173.23M144.02 166.82V182.59M144.67 166.81V176.7M145.84 166.78V178.73M146.97 166.76V185.99M148.19 166.74V173.44M149.16 166.72V182.91M149.87 166.7V182.06M151.15 166.68V181.61M152.23 166.66V181.66M153.47 166.63V181.74M154.64 166.61V186.13M155.49 166.59V182.18M156.75 166.56V182.62M157.74 166.55V175.82M158.87 166.52V184.17M159.67 166.51V172.56M160.45 166.55V177.41M161.54 166.67V184.23M162.49 166.78V170.03M163.21 166.86V185.6M164.1 166.96V185.31M165.38 167.11V185.67M166.24 167.2V176.73M166.91 167.28V172.99M168.12 167.41V183.73M168.89 167.5V181.56M169.79 167.6V173.29M170.58 167.69V186.09M171.86 167.83V184.97M172.67 167.93V182.76M173.38 168.01V183.25M174.29 168.11V178.7M175.01 168.19V182.62M175.64 168.26V178.73M176.45 168.32V184.21M177.4 168.37V172.07M178.61 168.43V174.1M179.4 168.47V179.67M180.31 168.52V180.48M181.14 168.56V172.02M182.41 168.62V178.54M183.36 168.67V181.81M184.28 168.71V181.93M185.08 168.75V176.27M186 168.8V176.66M187.06 168.85V176.83M187.68 168.88V178.91M188.46 168.92V181.6M189.34 168.97V185.1" stroke="#f04444" stroke-width="1.1" fill="none"/><path d="M42.8 183.85L44.5 186.75L41.1 186.75Z" fill="#f04444"/><path d="M44.42 180.25L46.12 183.15L42.72 183.15Z" fill="#f04444"/><path d="M46.18 174.14L47.88 177.04L44.48 177.04Z" fill="#f04444"/><path d="M48.19 180.78L49.89 183.68L46.49 183.68Z" fill="#f04444"/><path d="M50.08 178.37L51.78 181.27L48.38 181.27Z" fill="#f04444"/><path d="M52.39 177.61L54.09 180.51L50.69 180.51Z" fill="#f04444"/><path d="M54.3 184.49L56 187.39L52.6 187.39Z" fill="#f04444"/><path d="M56.37 180.71L58.07 183.61L54.67 183.61Z" fill="#f04444"/><path d="M57.91 182.77L59.61 185.67L56.21 185.67Z" fill="#f04444"/><path d="M59.98 178.2L61.68 181.1L58.28 181.1Z" fill="#f04444"/><path d="M62.33 174.98L64.03 177.88L60.63 177.88Z" fill="#f04444"/><path d="M64.03 182.84L65.73 185.74L62.33 185.74Z" fill="#f04444"/><path d="M65.87 180.92L67.57 183.82L64.17 183.82Z" fill="#f04444"/><path d="M67.47 180.83L69.17 183.73L65.77 183.73Z" fill="#f04444"/><path d="M69.61 170.71L71.31 173.61L67.91 173.61Z" fill="#f04444"/><path d="M71.97 178.85L73.67 181.75L70.27 181.75Z" fill="#f04444"/><path d="M73.93 182.56L75.63 185.46L72.23 185.46Z" fill="#f04444"/><path d="M75.97 179.13L77.67 182.03L74.27 182.03Z" fill="#f04444"/><path d="M78.06 174.23L79.76 177.13L76.36 177.13Z" fill="#f04444"/><path d="M80.59 170.84L82.29 173.74L78.89 173.74Z" fill="#f04444"/><path d="M82.49 174.59L84.19 177.49L80.79 177.49Z" fill="#f04444"/><path d="M84.67 182.88L86.37 185.78L82.97 185.78Z" fill="#f04444"/><path d="M86.38 182.37L88.08 185.27L84.68 185.27Z" fill="#f04444"/><path d="M88.03 181L89.73 183.9L86.33 183.9Z" fill="#f04444"/><path d="M89.67 180.17L91.37 183.07L87.97 183.07Z" fill="#f04444"/><path d="M91.96 184.11L93.66 187.01L90.26 187.01Z" fill="#f04444"/><path d="M94.4 169.54L96.1 172.44L92.7 172.44Z" fill="#f04444"/><path d="M96.35 168.53L98.05 171.43L94.65 171.43Z" fill="#f04444"/><path d="M98.53 181.53L100.23 184.43L96.83 184.43Z" fill="#f04444"/><path d="M100.19 171.69L101.89 174.59L98.49 174.59Z" fill="#f04444"/><path d="M101.9 183.28L103.6 186.18L100.2 186.18Z" fill="#f04444"/><path d="M103.66 173.93L105.36 176.83L101.96 176.83Z" fill="#f04444"/><path d="M106.01 180.87L107.71 183.77L104.31 183.77Z" fill="#f04444"/><path d="M107.43 176.09L109.13 178.99L105.73 178.99Z" fill="#f04444"/><path d="M109.16 184.25L110.86 187.15L107.46 187.15Z" fill="#f04444"/><path d="M111.51 180.42L113.21 183.32L109.81 183.32Z" fill="#f04444"/><path d="M113.02 173.3L114.72 176.2L111.32 176.2Z" fill="#f04444"/><path d="M114.68 180.42L116.38 183.32L112.98 183.32Z" fill="#f04444"/><path d="M116.85 179.88L118.55 182.78L115.15 182.78Z" fill="#f04444"/><path d="M118.94 178L120.64 180.9L117.24 180.9Z" fill="#f04444"/><path d="M120.32 182.38L122.02 185.28L118.62 185.28Z" fill="#f04444"/><path d="M122.26 181.82L123.96 184.72L120.56 184.72Z" fill="#f04444"/><path d="M123.99 173.59L125.69 176.49L122.29 176.49Z" fill="#f04444"/><path d="M126.01 184.07L127.71 186.97L124.31 186.97Z" fill="#f04444"/><path d="M127.34 179.67L129.04 182.57L125.64 182.57Z" fill="#f04444"/><path d="M128.79 180.95L130.49 183.85L127.09 183.85Z" fill="#f04444"/><path d="M130.53 181.08L132.23 183.98L128.83 183.98Z" fill="#f04444"/><path d="M132.43 181.16L134.13 184.06L130.73 184.06Z" fill="#f04444"/><path d="M134.19 168.53L135.89 171.43L132.49 171.43Z" fill="#f04444"/><path d="M136.19 173.17L137.89 176.07L134.49 176.07Z" fill="#f04444"/><path d="M137.98 179.18L139.68 182.08L136.28 182.08Z" fill="#f04444"/><path d="M139.51 177.04L141.21 179.94L137.81 179.94Z" fill="#f04444"/><path d="M141.25 173.95L142.95 176.85L139.55 176.85Z" fill="#f04444"/><path d="M143.27 171.43L144.97 174.33L141.57 174.33Z" fill="#f04444"/><path d="M144.67 174.9L146.37 177.8L142.97 177.8Z" fill="#f04444"/><path d="M146.97 184.19L148.67 187.09L145.27 187.09Z" fill="#f04444"/><path d="M149.16 181.11L150.86 184.01L147.46 184.01Z" fill="#f04444"/><path d="M151.15 179.81L152.85 182.71L149.45 182.71Z" fill="#f04444"/><path d="M153.47 179.94L155.17 182.84L151.77 182.84Z" fill="#f04444"/><path d="M155.49 180.38L157.19 183.28L153.79 183.28Z" fill="#f04444"/><path d="M157.74 174.02L159.44 176.92L156.04 176.92Z" fill="#f04444"/><path d="M159.67 170.76L161.37 173.66L157.97 173.66Z" fill="#f04444"/><path d="M161.54 182.43L163.24 185.33L159.84 185.33Z" fill="#f04444"/><path d="M163.21 183.8L164.91 186.7L161.51 186.7Z" fill="#f04444"/><path d="M165.38 183.87L167.08 186.77L163.68 186.77Z" fill="#f04444"/><path d="M166.91 171.19L168.61 174.09L165.21 174.09Z" fill="#f04444"/><path d="M168.89 179.76L170.59 182.66L167.19 182.66Z" fill="#f04444"/><path d="M170.58 184.29L172.28 187.19L168.88 187.19Z" fill="#f04444"/><path d="M172.67 180.96L174.37 183.86L170.97 183.86Z" fill="#f04444"/><path d="M174.29 176.9L175.99 179.8L172.59 179.8Z" fill="#f04444"/><path d="M175.64 176.93L177.34 179.83L173.94 179.83Z" fill="#f04444"/><path d="M177.4 170.27L179.1 173.17L175.7 173.17Z" fill="#f04444"/><path d="M179.4 177.87L181.1 180.77L177.7 180.77Z" fill="#f04444"/><path d="M181.14 170.22L182.84 173.12L179.44 173.12Z" fill="#f04444"/><path d="M183.36 180.01L185.06 182.91L181.66 182.91Z" fill="#f04444"/><path d="M185.08 174.47L186.78 177.37L183.38 177.37Z" fill="#f04444"/><path d="M187.06 175.03L188.76 177.93L185.36 177.93Z" fill="#f04444"/><path d="M188.46 179.8L190.16 182.7L186.76 182.7Z" fill="#f04444"/><path d="M52 162.07L53.5 164.67L50.5 164.67Z" fill="#f04444"/><path d="M59.17 162.45L60.67 165.05L57.67 165.05Z" fill="#f04444"/><path d="M66.51 161.9L68.01 164.5L65.01 164.5Z" fill="#f04444"/><path d="M74.03 161.69L75.53 164.29L72.53 164.29Z" fill="#f04444"/><path d="M79.33 161.37L80.83 163.97L77.83 163.97Z" fill="#f04444"/><path d="M86.71 161.32L88.21 163.92L85.21 163.92Z" fill="#f04444"/><path d="M92.95 161.05L94.45 163.65L91.45 163.65Z" fill="#f04444"/><path d="M100.82 160.58L102.32 163.18L99.32 163.18Z" fill="#f04444"/><path d="M109.2 160.54L110.7 163.14L107.7 163.14Z" fill="#f04444"/><path d="M115.61 159.77L117.11 162.37L114.11 162.37Z" fill="#f04444"/><path d="M122.93 159.45L124.43 162.05L121.43 162.05Z" fill="#f04444"/><path d="M129.68 158.8L131.18 161.4L128.18 161.4Z" fill="#f04444"/><path d="M137.44 158.44L138.94 161.04L135.94 161.04Z" fill="#f04444"/><path d="M145.97 157.86L147.47 160.46L144.47 160.46Z" fill="#f04444"/><path d="M154.66 157.7L156.16 160.3L153.16 160.3Z" fill="#f04444"/><path d="M162.22 157.95L163.72 160.55L160.72 160.55Z" fill="#f04444"/><path d="M168.32 157.93L169.82 160.53L166.82 160.53Z" fill="#f04444"/><rect x="119.29" y="164.05" width="1.15" height="1.18" fill="#fff" opacity="0.75"/><rect x="59.12" y="166.73" width="1.2" height="0.61" fill="#fff" opacity="0.75"/><rect x="100.2" y="165.96" width="0.7" height="0.63" fill="#fff" opacity="0.75"/><rect x="180.7" y="167.91" width="1.29" height="1.3" fill="#fff" opacity="0.75"/><rect x="174.41" y="170.6" width="0.84" height="0.84" fill="#fff" opacity="0.75"/><rect x="47.08" y="165.09" width="0.98" height="0.62" fill="#fff" opacity="0.75"/><rect x="55.68" y="167.39" width="1.07" height="1.38" fill="#fff" opacity="0.75"/><rect x="172.18" y="168.17" width="1" height="1.17" fill="#fff" opacity="0.75"/><rect x="45.79" y="161.64" width="0.78" height="1.19" fill="#fff" opacity="0.75"/><rect x="153.91" y="169.23" width="0.92" height="0.95" fill="#fff" opacity="0.75"/><rect x="174.32" y="169.65" width="1.07" height="1.42" fill="#fff" opacity="0.75"/><rect x="161.74" y="164.54" width="0.96" height="1.22" fill="#fff" opacity="0.75"/><rect x="96.35" y="168.15" width="0.91" height="0.73" fill="#fff" opacity="0.75"/><rect x="178.28" y="168.11" width="0.6" height="1.38" fill="#fff" opacity="0.75"/><rect x="77.48" y="166.6" width="0.87" height="0.67" fill="#fff" opacity="0.75"/><rect x="174.24" y="167.85" width="0.62" height="1.17" fill="#fff" opacity="0.75"/><rect x="174.92" y="165.47" width="0.81" height="0.66" fill="#fff" opacity="0.75"/><rect x="153.94" y="163.11" width="0.87" height="1.04" fill="#fff" opacity="0.75"/><rect x="118.85" y="167.93" width="0.89" height="1.15" fill="#fff" opacity="0.75"/><rect x="59.41" y="170.98" width="1.25" height="0.99" fill="#fff" opacity="0.75"/><rect x="57.07" y="171.78" width="1.27" height="0.92" fill="#fff" opacity="0.75"/><rect x="154.28" y="166.7" width="0.77" height="0.98" fill="#fff" opacity="0.75"/><rect x="130.13" y="163.29" width="0.75" height="0.9" fill="#fff" opacity="0.75"/><rect x="173.77" y="169.02" width="1.02" height="0.66" fill="#fff" opacity="0.75"/><rect x="92.04" y="166.88" width="0.91" height="1" fill="#fff" opacity="0.75"/><rect x="144.05" y="166.5" width="1.07" height="1.08" fill="#fff" opacity="0.75"/><rect x="122.51" y="163.84" width="1.28" height="1.45" fill="#fff" opacity="0.75"/><rect x="91.93" y="168.01" width="1.11" height="0.72" fill="#fff" opacity="0.75"/><rect x="81.18" y="170.05" width="0.63" height="1.25" fill="#fff" opacity="0.75"/><rect x="95.54" y="165.55" width="0.92" height="1.15" fill="#fff" opacity="0.75"/><rect x="113.34" y="170.34" width="1.06" height="1.02" fill="#fff" opacity="0.75"/><rect x="147.43" y="163.05" width="1.22" height="1.34" fill="#fff" opacity="0.75"/><rect x="143.66" y="165.05" width="0.84" height="1.24" fill="#fff" opacity="0.75"/><rect x="78.79" y="168.3" width="0.97" height="0.99" fill="#fff" opacity="0.75"/><rect x="156.24" y="165.79" width="0.69" height="1.39" fill="#fff" opacity="0.75"/><rect x="162.68" y="165.92" width="0.71" height="1.03" fill="#fff" opacity="0.75"/><rect x="71.03" y="169.05" width="0.85" height="1.15" fill="#fff" opacity="0.75"/><rect x="60.82" y="172.61" width="0.68" height="0.8" fill="#fff" opacity="0.75"/><rect x="134.01" y="166.75" width="0.75" height="0.83" fill="#fff" opacity="0.75"/><rect x="55.56" y="170.57" width="0.97" height="1.17" fill="#fff" opacity="0.75"/><rect x="106.33" y="165.64" width="0.76" height="1.27" fill="#fff" opacity="0.75"/><rect x="66.21" y="166.05" width="0.66" height="1.24" fill="#fff" opacity="0.75"/><rect x="89.96" y="166.93" width="0.7" height="1.01" fill="#fff" opacity="0.75"/><rect x="144.86" y="166.53" width="0.79" height="1.36" fill="#fff" opacity="0.75"/><rect x="66.93" y="166.51" width="1.07" height="0.62" fill="#fff" opacity="0.75"/><rect x="119.46" y="163.84" width="0.82" height="1.08" fill="#fff" opacity="0.75"/><rect x="122.74" y="167.38" width="1.11" height="1.48" fill="#fff" opacity="0.75"/><rect x="145.67" y="164.81" width="0.99" height="0.77" fill="#fff" opacity="0.75"/><rect x="46.7" y="163.07" width="1.16" height="1.37" fill="#fff" opacity="0.75"/><rect x="123.16" y="164.01" width="1.18" height="0.84" fill="#fff" opacity="0.75"/><rect x="125.23" y="166.08" width="1.28" height="1.17" fill="#fff" opacity="0.75"/><rect x="123.84" y="169.02" width="1.2" height="0.7" fill="#fff" opacity="0.75"/><rect x="152.8" y="169.44" width="1.03" height="0.74" fill="#fff" opacity="0.75"/><rect x="164.93" y="163.32" width="0.94" height="1.49" fill="#fff" opacity="0.75"/><rect x="144.4" y="165.92" width="0.84" height="0.88" fill="#fff" opacity="0.75"/><rect x="185.79" y="166.27" width="0.73" height="1.43" fill="#fff" opacity="0.75"/><rect x="91.35" y="170.22" width="0.79" height="0.78" fill="#fff" opacity="0.75"/><rect x="160.22" y="167.26" width="0.79" height="1.44" fill="#fff" opacity="0.75"/><rect x="181.86" y="168.6" width="0.77" height="0.66" fill="#fff" opacity="0.75"/><rect x="150.81" y="169.39" width="1.22" height="0.65" fill="#fff" opacity="0.75"/><rect x="165.85" y="169.29" width="1.28" height="0.74" fill="#fff" opacity="0.75"/><rect x="86.55" y="168.08" width="0.63" height="0.61" fill="#fff" opacity="0.75"/><rect x="175.39" y="165.98" width="0.61" height="1.46" fill="#fff" opacity="0.75"/><rect x="164.92" y="168.31" width="1.12" height="1.03" fill="#fff" opacity="0.75"/><rect x="117.46" y="166.31" width="0.93" height="1.01" fill="#fff" opacity="0.75"/><rect x="187.25" y="166.46" width="1.11" height="0.92" fill="#fff" opacity="0.75"/><rect x="83.26" y="167.29" width="0.89" height="0.93" fill="#fff" opacity="0.75"/><rect x="79.73" y="167.37" width="0.97" height="0.88" fill="#fff" opacity="0.75"/><rect x="176.48" y="167.64" width="0.74" height="1.38" fill="#fff" opacity="0.75"/><rect x="81.44" y="165.79" width="1.12" height="1.47" fill="#fff" opacity="0.75"/><rect x="62.8" y="167.07" width="1.05" height="1.14" fill="#fff" opacity="0.75"/><rect x="156.97" y="162.63" width="0.99" height="1.25" fill="#fff" opacity="0.75"/><rect x="151.19" y="166.38" width="1.19" height="0.61" fill="#fff" opacity="0.75"/><rect x="101.22" y="165.13" width="1.21" height="1.09" fill="#fff" opacity="0.75"/><rect x="125.13" y="165.21" width="1.3" height="1.31" fill="#fff" opacity="0.75"/><rect x="76.94" y="171.11" width="0.98" height="1.21" fill="#fff" opacity="0.75"/><rect x="105.94" y="168.82" width="0.71" height="1.39" fill="#fff" opacity="0.75"/><rect x="77.18" y="167.73" width="1.04" height="0.91" fill="#fff" opacity="0.75"/><rect x="135.79" y="165.63" width="1.27" height="0.63" fill="#fff" opacity="0.75"/><rect x="170.02" y="164.93" width="0.7" height="1.49" fill="#fff" opacity="0.75"/><rect x="77.13" y="169.78" width="1.15" height="1.44" fill="#fff" opacity="0.75"/><rect x="87.12" y="165.86" width="0.82" height="0.82" fill="#fff" opacity="0.75"/><rect x="94.46" y="169.76" width="0.88" height="1.19" fill="#fff" opacity="0.75"/><rect x="123.98" y="167.3" width="1.19" height="1.35" fill="#fff" opacity="0.75"/><rect x="102.55" y="166.32" width="1.25" height="1.4" fill="#fff" opacity="0.75"/><rect x="84.13" y="167.52" width="1" height="0.91" fill="#fff" opacity="0.75"/><rect x="139.59" y="167.47" width="0.67" height="1.32" fill="#fff" opacity="0.75"/><rect x="168.08" y="168.45" width="0.66" height="0.9" fill="#fff" opacity="0.75"/><rect x="162.4" y="168.66" width="0.72" height="1.36" fill="#fff" opacity="0.75"/><rect x="44.04" y="156.77" width="0.83" height="0.89" fill="#fff" opacity="0.75"/><rect x="58.26" y="169.97" width="0.99" height="1.1" fill="#fff" opacity="0.75"/><rect x="147.91" y="165.69" width="1.13" height="1.39" fill="#fff" opacity="0.75"/><rect x="76.01" y="166.85" width="0.62" height="1.25" fill="#fff" opacity="0.75"/><rect x="72" y="166.02" width="0.78" height="1.26" fill="#fff" opacity="0.75"/><rect x="111.28" y="164.61" width="1.16" height="0.62" fill="#fff" opacity="0.75"/><rect x="52.92" y="169.75" width="1.13" height="1.32" fill="#fff" opacity="0.75"/><rect x="164.99" y="167.89" width="0.85" height="1.09" fill="#fff" opacity="0.75"/><rect x="149.34" y="163.39" width="1.18" height="1.2" fill="#fff" opacity="0.75"/><rect x="95.33" y="170.78" width="1.21" height="1.35" fill="#fff" opacity="0.75"/><rect x="143.79" y="167.45" width="1.14" height="1.41" fill="#fff" opacity="0.75"/><rect x="96.57" y="165.21" width="0.72" height="1.39" fill="#fff" opacity="0.75"/><rect x="89.92" y="170.26" width="1.29" height="0.9" fill="#fff" opacity="0.75"/><rect x="98.02" y="165.03" width="0.98" height="0.77" fill="#fff" opacity="0.75"/><rect x="162.3" y="163.14" width="1.05" height="0.81" fill="#fff" opacity="0.75"/><rect x="180.98" y="166.69" width="0.94" height="0.88" fill="#fff" opacity="0.75"/><rect x="143.87" y="165.59" width="1.02" height="0.85" fill="#fff" opacity="0.75"/><rect x="71.92" y="170.25" width="1.26" height="1.43" fill="#fff" opacity="0.75"/><rect x="125.21" y="164.31" width="1.04" height="1.44" fill="#fff" opacity="0.75"/><rect x="85.1" y="167.08" width="1.09" height="1.45" fill="#fff" opacity="0.75"/><rect x="176.46" y="169.05" width="0.67" height="1.33" fill="#fff" opacity="0.75"/><rect x="43.75" y="156.06" width="2.4" height="2.4" fill="#f04444" transform="rotate(45 44.95 157.26)"/><rect x="45.39" y="151.49" width="2.4" height="2.4" fill="#f04444" transform="rotate(45 46.59 152.69)"/><rect x="43" y="155.06" width="2.4" height="2.4" fill="#f04444" transform="rotate(45 44.2 156.26)"/><rect x="48.33" y="153.4" width="2.4" height="2.4" fill="#f04444" transform="rotate(45 49.53 154.6)"/><rect x="47.48" y="153.94" width="2.4" height="2.4" fill="#f04444" transform="rotate(45 48.68 155.14)"/><rect x="42.03" y="153.17" width="2.4" height="2.4" fill="#f04444" transform="rotate(45 43.23 154.37)"/><rect x="44.02" y="157.42" width="2.4" height="2.4" fill="#f04444" transform="rotate(45 45.22 158.62)"/><rect x="45.68" y="160.02" width="2.4" height="2.4" fill="#f04444" transform="rotate(45 46.88 161.22)"/><rect x="45.63" y="156.35" width="2.4" height="2.4" fill="#f04444" transform="rotate(45 46.83 157.55)"/><rect x="44.47" y="158.45" width="2.4" height="2.4" fill="#f04444" transform="rotate(45 45.67 159.65)"/><rect x="43.11" y="155.78" width="2.4" height="2.4" fill="#f04444" transform="rotate(45 44.31 156.98)"/><rect x="48.34" y="156.75" width="2.4" height="2.4" fill="#f04444" transform="rotate(45 49.54 157.95)"/><path d="M42.8 152V175M45.6 155V176M49.2 157V172" stroke="#f04444" stroke-width="0.9"/><path d="M156.2 160 L156.2 157.2 L157.7 149 L159.1 138.6 L160.1 128 L160.8 118 L161.6 110 L162.5 102.8 L163.3 95 L164.6 92.4 L166.5 91 L168.7 89.8 L171.8 88.6 L174.9 87.3 L177.5 85.9 L180 84.2 L182.3 82.4 L184.3 80.1 L185.7 78 L186.7 76 L187.7 73 L188.4 69.8 L188.8 66 L189.1 62.6 L189.4 59.5 L189.8 56.4 L190.2 53.2 L190.9 51.2 L192 49.4 L194 48.2 L196 47.5 L198 46.9 L200 46.4 L202.3 45.9 L204 45.3" fill="none" stroke="#f22" stroke-width="0.9" stroke-linejoin="round" /><path d="M162.5 102.8 L163.3 95 L164.6 92.4 L166.5 91 L168.7 89.8 L171.8 88.6 L174.9 87.3 L177.5 85.9 L180 84.2 L182.3 82.4 L184.3 80.1 L185.7 78 L186.7 76 L187.7 73 L188.4 69.8 L188.8 66 L189.1 62.6 L189.4 59.5 L189.8 56.4 L190.2 53.2 L190.9 51.2 L192 49.4 L194 48.2 L196 47.5 L198 46.9 L200 46.4 L202.3 45.9 L204 45.3" fill="none" stroke="#f22" stroke-width="3.0" stroke-linejoin="round" /><rect x="154.85" y="158.65" width="2.7" height="2.7" fill="#f22" transform="rotate(45 156.2 160)"/><rect x="154.85" y="156.05" width="2.7" height="2.7" fill="#f22" transform="rotate(45 156.2 157.4)"/><rect x="155.28" y="153.49" width="2.7" height="2.7" fill="#f22" transform="rotate(45 156.63 154.84)"/><rect x="155.75" y="150.93" width="2.7" height="2.7" fill="#f22" transform="rotate(45 157.1 152.28)"/><rect x="156.22" y="148.37" width="2.7" height="2.7" fill="#f22" transform="rotate(45 157.57 149.72)"/><rect x="156.6" y="145.8" width="2.7" height="2.7" fill="#f22" transform="rotate(45 157.95 147.15)"/><rect x="156.95" y="143.23" width="2.7" height="2.7" fill="#f22" transform="rotate(45 158.3 144.58)"/><rect x="157.29" y="140.65" width="2.7" height="2.7" fill="#f22" transform="rotate(45 158.64 142)"/><rect x="157.64" y="138.07" width="2.7" height="2.7" fill="#f22" transform="rotate(45 158.99 139.42)"/><rect x="157.92" y="135.49" width="2.7" height="2.7" fill="#f22" transform="rotate(45 159.27 136.84)"/><rect x="158.16" y="132.9" width="2.7" height="2.7" fill="#f22" transform="rotate(45 159.51 134.25)"/><rect x="158.4" y="130.31" width="2.7" height="2.7" fill="#f22" transform="rotate(45 159.75 131.66)"/><rect x="158.65" y="127.72" width="2.7" height="2.7" fill="#f22" transform="rotate(45 160 129.07)"/><rect x="158.86" y="125.13" width="2.7" height="2.7" fill="#f22" transform="rotate(45 160.21 126.48)"/><rect x="159.04" y="122.54" width="2.7" height="2.7" fill="#f22" transform="rotate(45 160.39 123.89)"/><rect x="159.22" y="119.94" width="2.7" height="2.7" fill="#f22" transform="rotate(45 160.57 121.29)"/><rect x="159.4" y="117.35" width="2.7" height="2.7" fill="#f22" transform="rotate(45 160.75 118.7)"/><rect x="159.64" y="114.76" width="2.7" height="2.7" fill="#f22" transform="rotate(45 160.99 116.11)"/><rect x="159.9" y="112.17" width="2.7" height="2.7" fill="#f22" transform="rotate(45 161.25 113.52)"/><rect x="160.16" y="109.59" width="2.7" height="2.7" fill="#f22" transform="rotate(45 161.51 110.94)"/><rect x="160.46" y="107" width="2.7" height="2.7" fill="#f22" transform="rotate(45 161.81 108.35)"/><rect x="160.78" y="104.42" width="2.7" height="2.7" fill="#f22" transform="rotate(45 162.13 105.77)"/><rect x="161.1" y="101.84" width="2.7" height="2.7" fill="#f22" transform="rotate(45 162.45 103.19)"/><rect x="161.37" y="99.26" width="2.7" height="2.7" fill="#f22" transform="rotate(45 162.72 100.61)"/><rect x="161.64" y="96.67" width="2.7" height="2.7" fill="#f22" transform="rotate(45 162.99 98.02)"/><rect x="161.91" y="94.09" width="2.7" height="2.7" fill="#f22" transform="rotate(45 163.26 95.44)"/><line x1="188.7" x2="188.7" y1="170" y2="66" stroke="#f22" stroke-width="0.9"/><rect x="189.7" y="164.7" width="2.2" height="2.2" fill="#3a3a3a"/><line x1="47.4" x2="47.4" y1="142.5" y2="166" stroke="#f22" stroke-width="0.8"/><path d="M47.4 141.2L49 144.2L45.8 144.2Z" fill="#f22"/><line x1="140.6" x2="140.6" y1="147.8" y2="166" stroke="#f22" stroke-width="0.8"/><rect x="139.3" y="146.5" width="2.6" height="2.6" fill="#f22" transform="rotate(45 140.6 147.8)"/></g><rect x="32.9" y="45.8" width="188.0" height="141.10000000000002" fill="none" stroke="#505050" stroke-width="1.5"/><path d="M32.9 186.9h2.6M220.9 186.9h-2.6M32.9 182.18h1.5M220.9 182.18h-1.5M32.9 179.42h1.5M220.9 179.42h-1.5M32.9 177.46h1.5M220.9 177.46h-1.5M32.9 175.94h1.5M220.9 175.94h-1.5M32.9 174.7h1.5M220.9 174.7h-1.5M32.9 173.65h1.5M220.9 173.65h-1.5M32.9 172.74h1.5M220.9 172.74h-1.5M32.9 171.94h1.5M220.9 171.94h-1.5M32.9 171.22h2.6M220.9 171.22h-2.6M32.9 166.5h1.5M220.9 166.5h-1.5M32.9 163.74h1.5M220.9 163.74h-1.5M32.9 161.78h1.5M220.9 161.78h-1.5M32.9 160.27h1.5M220.9 160.27h-1.5M32.9 159.02h1.5M220.9 159.02h-1.5M32.9 157.97h1.5M220.9 157.97h-1.5M32.9 157.07h1.5M220.9 157.07h-1.5M32.9 156.26h1.5M220.9 156.26h-1.5M32.9 155.55h2.6M220.9 155.55h-2.6M32.9 150.83h1.5M220.9 150.83h-1.5M32.9 148.07h1.5M220.9 148.07h-1.5M32.9 146.11h1.5M220.9 146.11h-1.5M32.9 144.59h1.5M220.9 144.59h-1.5M32.9 143.35h1.5M220.9 143.35h-1.5M32.9 142.3h1.5M220.9 142.3h-1.5M32.9 141.39h1.5M220.9 141.39h-1.5M32.9 140.59h1.5M220.9 140.59h-1.5M32.9 139.87h2.6M220.9 139.87h-2.6M32.9 135.15h1.5M220.9 135.15h-1.5M32.9 132.39h1.5M220.9 132.39h-1.5M32.9 130.43h1.5M220.9 130.43h-1.5M32.9 128.91h1.5M220.9 128.91h-1.5M32.9 127.67h1.5M220.9 127.67h-1.5M32.9 126.62h1.5M220.9 126.62h-1.5M32.9 125.71h1.5M220.9 125.71h-1.5M32.9 124.91h1.5M220.9 124.91h-1.5M32.9 124.19h2.6M220.9 124.19h-2.6M32.9 119.47h1.5M220.9 119.47h-1.5M32.9 116.71h1.5M220.9 116.71h-1.5M32.9 114.75h1.5M220.9 114.75h-1.5M32.9 113.23h1.5M220.9 113.23h-1.5M32.9 111.99h1.5M220.9 111.99h-1.5M32.9 110.94h1.5M220.9 110.94h-1.5M32.9 110.03h1.5M220.9 110.03h-1.5M32.9 109.23h1.5M220.9 109.23h-1.5M32.9 108.51h2.6M220.9 108.51h-2.6M32.9 103.79h1.5M220.9 103.79h-1.5M32.9 101.03h1.5M220.9 101.03h-1.5M32.9 99.07h1.5M220.9 99.07h-1.5M32.9 97.55h1.5M220.9 97.55h-1.5M32.9 96.31h1.5M220.9 96.31h-1.5M32.9 95.26h1.5M220.9 95.26h-1.5M32.9 94.35h1.5M220.9 94.35h-1.5M32.9 93.55h1.5M220.9 93.55h-1.5M32.9 92.83h2.6M220.9 92.83h-2.6M32.9 88.11h1.5M220.9 88.11h-1.5M32.9 85.35h1.5M220.9 85.35h-1.5M32.9 83.39h1.5M220.9 83.39h-1.5M32.9 81.88h1.5M220.9 81.88h-1.5M32.9 80.63h1.5M220.9 80.63h-1.5M32.9 79.58h1.5M220.9 79.58h-1.5M32.9 78.68h1.5M220.9 78.68h-1.5M32.9 77.87h1.5M220.9 77.87h-1.5M32.9 77.16h2.6M220.9 77.16h-2.6M32.9 72.44h1.5M220.9 72.44h-1.5M32.9 69.68h1.5M220.9 69.68h-1.5M32.9 67.72h1.5M220.9 67.72h-1.5M32.9 66.2h1.5M220.9 66.2h-1.5M32.9 64.96h1.5M220.9 64.96h-1.5M32.9 63.91h1.5M220.9 63.91h-1.5M32.9 63h1.5M220.9 63h-1.5M32.9 62.2h1.5M220.9 62.2h-1.5M32.9 61.48h2.6M220.9 61.48h-2.6M32.9 56.76h1.5M220.9 56.76h-1.5M32.9 54h1.5M220.9 54h-1.5M32.9 52.04h1.5M220.9 52.04h-1.5M32.9 50.52h1.5M220.9 50.52h-1.5M32.9 49.28h1.5M220.9 49.28h-1.5M32.9 48.23h1.5M220.9 48.23h-1.5M32.9 47.32h1.5M220.9 47.32h-1.5M32.9 46.52h1.5M220.9 46.52h-1.5M32.9 45.8h2.6M220.9 45.8h-2.6M43.3 186.9v-2.6M43.3 45.8v2.6M82.75 186.9v-2.6M82.75 45.8v2.6M122.2 186.9v-2.6M122.2 45.8v2.6M161.65 186.9v-2.6M161.65 45.8v2.6M201.1 186.9v-2.6M201.1 45.8v2.6M63.02 186.9v-1.5M63.02 45.8v1.5M102.47 186.9v-1.5M102.47 45.8v1.5M141.93 186.9v-1.5M141.93 45.8v1.5M181.38 186.9v-1.5M181.38 45.8v1.5" stroke="#3c3c3c" stroke-width="0.8" fill="none"/><rect x="38.4" y="50.3" width="80.9" height="35.7" fill="#fff" stroke="#d4d4d4" stroke-width="0.8"/><line x1="39.4" x2="54.9" y1="55.5" y2="55.5" stroke="#505050" stroke-width="1.3"/><circle cx="47.4" cy="55.5" r="1.7" fill="#3a3a3a"/><text x="56.6" y="57.6" font-size="7" font-weight="bold">SPAD-dark</text><text x="97.1" y="57.6" font-size="7" font-weight="bold">(293K)</text><line x1="39.4" x2="54.9" y1="64.0" y2="64.0" stroke="#505050" stroke-width="1.3"/><rect x="46" y="62.6" width="2.8" height="2.8" fill="#3a3a3a" transform="rotate(45 47.4 64.0)"/><text x="56.6" y="66.1" font-size="7" font-weight="bold">SPAD-photo</text><text x="98.3" y="66.1" font-size="7" font-weight="bold">(293K)</text><line x1="39.4" x2="54.9" y1="72.6" y2="72.6" stroke="#f33" stroke-width="1.3"/><path d="M47.4 70.6L49.2 73.7L45.6 73.7Z" fill="#f22"/><text x="56.6" y="74.7" font-size="7" font-weight="bold">SPAD-dark</text><text x="97.1" y="74.7" font-size="7" font-weight="bold">(233K)</text><line x1="39.4" x2="54.9" y1="81.1" y2="81.1" stroke="#f33" stroke-width="1.3"/><rect x="46" y="79.7" width="2.8" height="2.8" fill="#f22" transform="rotate(45 47.4 81.1)"/><text x="56.6" y="83.2" font-size="7" font-weight="bold">SPAD-photo</text><text x="98.3" y="83.2" font-size="7" font-weight="bold">(233K)</text><text x="25.2" y="189.9" font-size="6.4" font-weight="bold" text-anchor="end">10</text><text x="25.3" y="187.1" font-size="4.6" font-weight="bold">-12</text><text x="25.2" y="174.22" font-size="6.4" font-weight="bold" text-anchor="end">10</text><text x="25.3" y="171.42" font-size="4.6" font-weight="bold">-11</text><text x="25.2" y="158.55" font-size="6.4" font-weight="bold" text-anchor="end">10</text><text x="25.3" y="155.75" font-size="4.6" font-weight="bold">-10</text><text x="25.2" y="142.87" font-size="6.4" font-weight="bold" text-anchor="end">10</text><text x="25.3" y="140.07" font-size="4.6" font-weight="bold">-9</text><text x="25.2" y="127.19" font-size="6.4" font-weight="bold" text-anchor="end">10</text><text x="25.3" y="124.39" font-size="4.6" font-weight="bold">-8</text><text x="25.2" y="111.51" font-size="6.4" font-weight="bold" text-anchor="end">10</text><text x="25.3" y="108.71" font-size="4.6" font-weight="bold">-7</text><text x="25.2" y="95.83" font-size="6.4" font-weight="bold" text-anchor="end">10</text><text x="25.3" y="93.03" font-size="4.6" font-weight="bold">-6</text><text x="25.2" y="80.16" font-size="6.4" font-weight="bold" text-anchor="end">10</text><text x="25.3" y="77.36" font-size="4.6" font-weight="bold">-5</text><text x="25.2" y="64.48" font-size="6.4" font-weight="bold" text-anchor="end">10</text><text x="25.3" y="61.68" font-size="4.6" font-weight="bold">-4</text><text x="25.2" y="48.8" font-size="6.4" font-weight="bold" text-anchor="end">10</text><text x="25.3" y="46" font-size="4.6" font-weight="bold">-3</text><text x="43.3" y="196.8" font-size="6.4" font-weight="bold" text-anchor="middle">0</text><text x="82.75" y="196.8" font-size="6.4" font-weight="bold" text-anchor="middle">20</text><text x="122.2" y="196.8" font-size="6.4" font-weight="bold" text-anchor="middle">40</text><text x="161.65" y="196.8" font-size="6.4" font-weight="bold" text-anchor="middle">60</text><text x="201.1" y="196.8" font-size="6.4" font-weight="bold" text-anchor="middle">80</text><text x="127.5" y="209.1" font-size="8" font-weight="bold" text-anchor="middle">V (V)</text><text transform="translate(14.2 116.3) rotate(-90)" font-size="8" font-weight="bold" text-anchor="middle">I (A)</text><text x="0.5" y="49.2" font-size="13" font-weight="bold">(a)</text><line x1="252.3" x2="430.0" y1="175.14" y2="175.14" stroke="#f0f0f0" stroke-width="0.9"/><line x1="252.3" x2="430.0" y1="163.38" y2="163.38" stroke="#e4e4e4" stroke-width="0.9"/><line x1="252.3" x2="430.0" y1="151.63" y2="151.63" stroke="#f0f0f0" stroke-width="0.9"/><line x1="252.3" x2="430.0" y1="139.87" y2="139.87" stroke="#e4e4e4" stroke-width="0.9"/><line x1="252.3" x2="430.0" y1="128.11" y2="128.11" stroke="#f0f0f0" stroke-width="0.9"/><line x1="252.3" x2="430.0" y1="116.36" y2="116.36" stroke="#e4e4e4" stroke-width="0.9"/><line x1="252.3" x2="430.0" y1="104.6" y2="104.6" stroke="#f0f0f0" stroke-width="0.9"/><line x1="252.3" x2="430.0" y1="92.84" y2="92.84" stroke="#e4e4e4" stroke-width="0.9"/><line x1="252.3" x2="430.0" y1="81.08" y2="81.08" stroke="#f0f0f0" stroke-width="0.9"/><line x1="252.3" x2="430.0" y1="69.33" y2="69.33" stroke="#e4e4e4" stroke-width="0.9"/><line x1="252.3" x2="430.0" y1="57.57" y2="57.57" stroke="#f0f0f0" stroke-width="0.9"/><line x1="281.92" x2="281.92" y1="45.8" y2="186.9" stroke="#f0f0f0" stroke-width="0.9"/><line x1="311.53" x2="311.53" y1="45.8" y2="186.9" stroke="#e4e4e4" stroke-width="0.9"/><line x1="341.14" x2="341.14" y1="45.8" y2="186.9" stroke="#f0f0f0" stroke-width="0.9"/><line x1="370.76" x2="370.76" y1="45.8" y2="186.9" stroke="#e4e4e4" stroke-width="0.9"/><line x1="400.38" x2="400.38" y1="45.8" y2="186.9" stroke="#f0f0f0" stroke-width="0.9"/><rect x="252.3" y="45.8" width="177.7" height="141.1" fill="none" stroke="#505050" stroke-width="1.5"/><path d="M252.3 186.9h2.6M430.0 186.9h-2.6M252.3 175.14h1.5M430.0 175.14h-1.5M252.3 163.38h2.6M430.0 163.38h-2.6M252.3 151.63h1.5M430.0 151.63h-1.5M252.3 139.87h2.6M430.0 139.87h-2.6M252.3 128.11h1.5M430.0 128.11h-1.5M252.3 116.36h2.6M430.0 116.36h-2.6M252.3 104.6h1.5M430.0 104.6h-1.5M252.3 92.84h2.6M430.0 92.84h-2.6M252.3 81.08h1.5M430.0 81.08h-1.5M252.3 69.33h2.6M430.0 69.33h-2.6M252.3 57.57h1.5M430.0 57.57h-1.5M252.3 45.81h2.6M430.0 45.81h-2.6M252.3 186.9v-2.6M252.3 45.8v2.6M281.92 186.9v-1.5M281.92 45.8v1.5M311.53 186.9v-2.6M311.53 45.8v2.6M341.14 186.9v-1.5M341.14 45.8v1.5M370.76 186.9v-2.6M370.76 45.8v2.6M400.38 186.9v-1.5M400.38 45.8v1.5M429.99 186.9v-2.6M429.99 45.8v2.6" stroke="#444" stroke-width="0.8" fill="none"/><path d="M275.99 112.31 L311.53 92.37 L388.53 65.28 L400.38 58.51" fill="none" stroke="#f55" stroke-width="1.2" stroke-linejoin="round" /><path d="M275.99 107.14V117.48M274.59 107.14h2.8M274.59 117.48h2.8" stroke="#f55" stroke-width="0.7" fill="none"/><rect x="274.29" y="110.61" width="3.4" height="3.4" fill="#f11"/><path d="M311.53 85.08V99.66M310.13 85.08h2.8M310.13 99.66h2.8" stroke="#f55" stroke-width="0.7" fill="none"/><rect x="309.83" y="90.67" width="3.4" height="3.4" fill="#f11"/><path d="M388.53 59.07V71.49M387.13 59.07h2.8M387.13 71.49h2.8" stroke="#f55" stroke-width="0.7" fill="none"/><rect x="386.83" y="63.58" width="3.4" height="3.4" fill="#f11"/><path d="M400.38 51.36V65.66M398.98 51.36h2.8M398.98 65.66h2.8" stroke="#f55" stroke-width="0.7" fill="none"/><rect x="398.68" y="56.81" width="3.4" height="3.4" fill="#f11"/><path d="M275.99 169.78 L311.53 154.78 L388.53 132.91 L400.38 119.32" fill="none" stroke="#666" stroke-width="1.25" stroke-linejoin="round" /><path d="M275.99 164.37V175.19M274.59 164.37h2.8M274.59 175.19h2.8" stroke="#888" stroke-width="0.75" fill="none"/><circle cx="275.99" cy="169.78" r="1.55" fill="#555" stroke="#222" stroke-width="0.8"/><path d="M311.53 149.09V160.47M310.13 149.09h2.8M310.13 160.47h2.8" stroke="#888" stroke-width="0.75" fill="none"/><circle cx="311.53" cy="154.78" r="1.55" fill="#555" stroke="#222" stroke-width="0.8"/><path d="M388.53 121.48V144.34M387.13 121.48h2.8M387.13 144.34h2.8" stroke="#888" stroke-width="0.75" fill="none"/><circle cx="388.53" cy="132.91" r="1.55" fill="#555" stroke="#222" stroke-width="0.8"/><path d="M400.38 101.21V137.42M398.98 101.21h2.8M398.98 137.42h2.8" stroke="#888" stroke-width="0.75" fill="none"/><circle cx="400.38" cy="119.32" r="1.55" fill="#555" stroke="#222" stroke-width="0.8"/><rect x="263.9" y="50.4" width="59.1" height="20" fill="#fff" stroke="#d4d4d4" stroke-width="0.8"/><line x1="264.9" x2="281" y1="56.1" y2="56.1" stroke="#f66" stroke-width="1.6"/><rect x="271.4" y="54.4" width="3.4" height="3.4" fill="#f11"/><line x1="264.9" x2="281" y1="65.7" y2="65.7" stroke="#666" stroke-width="1.2"/><circle cx="273.1" cy="65.7" r="1.55" fill="#555" stroke="#222" stroke-width="0.8"/><text x="283.4" y="58.7" font-size="7.5" font-weight="bold">SPAD-PDE</text><text x="283.4" y="68.3" font-size="7.5" font-weight="bold">SPAD-DCR</text><text x="248.4" y="189.1" font-size="6.3" font-weight="bold" text-anchor="end" fill="#f00">0</text><text x="432.8" y="189.1" font-size="6.3" font-weight="bold">0</text><text x="248.4" y="165.58" font-size="6.3" font-weight="bold" text-anchor="end" fill="#f00">5</text><text x="432.8" y="165.58" font-size="6.3" font-weight="bold">5</text><text x="248.4" y="142.07" font-size="6.3" font-weight="bold" text-anchor="end" fill="#f00">10</text><text x="432.8" y="142.07" font-size="6.3" font-weight="bold">10</text><text x="248.4" y="118.56" font-size="6.3" font-weight="bold" text-anchor="end" fill="#f00">15</text><text x="432.8" y="118.56" font-size="6.3" font-weight="bold">15</text><text x="248.4" y="95.04" font-size="6.3" font-weight="bold" text-anchor="end" fill="#f00">20</text><text x="432.8" y="95.04" font-size="6.3" font-weight="bold">20</text><text x="248.4" y="71.53" font-size="6.3" font-weight="bold" text-anchor="end" fill="#f00">25</text><text x="432.8" y="71.53" font-size="6.3" font-weight="bold">25</text><text x="248.4" y="48.01" font-size="6.3" font-weight="bold" text-anchor="end" fill="#f00">30</text><text x="432.8" y="48.01" font-size="6.3" font-weight="bold">30</text><text x="252.3" y="196.5" font-size="6.3" font-weight="bold" text-anchor="middle">2</text><text x="311.53" y="196.5" font-size="6.3" font-weight="bold" text-anchor="middle">3</text><text x="370.76" y="196.5" font-size="6.3" font-weight="bold" text-anchor="middle">4</text><text x="429.99" y="196.5" font-size="6.3" font-weight="bold" text-anchor="middle">5</text><text x="341.5" y="209.2" font-size="8" font-weight="bold" text-anchor="middle">Vex (V)</text><text transform="translate(238.5 115.8) rotate(-90)" font-size="8" font-weight="bold" text-anchor="middle" fill="#f00">PDE(%)</text><text transform="translate(447.6 114.5) rotate(-90)" font-size="8" font-weight="bold" text-anchor="middle">DCR(kHz)</text><text x="225.3" y="49.2" font-size="13" font-weight="bold">(b)</text></svg></div>
</body></html>
